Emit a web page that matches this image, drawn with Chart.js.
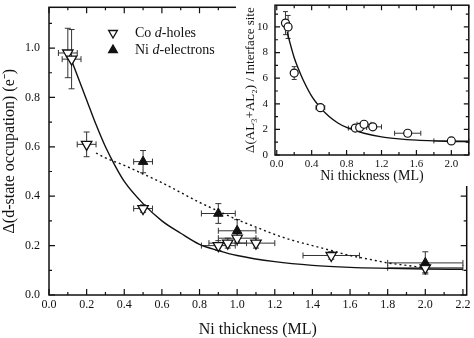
<!DOCTYPE html>
<html>
<head>
<meta charset="utf-8">
<script src="https://cdn.jsdelivr.net/npm/chart.js@4.4.0/dist/chart.umd.min.js"></script>
<style>
  body { margin: 0; background: #fff; }
  #wrap { position: relative; width: 474px; height: 338px; }
  #main { position: absolute; left: 0; top: 0; }
  #inset { position: absolute; left: 236px; top: 0; background: #fff; }
</style>
</head>
<body>
<div id="wrap">
  <canvas id="main" width="474" height="338"></canvas>
  <canvas id="inset" width="238" height="186"></canvas>
</div>
<script>
// --- Données ---

// Co d-holes (triangles vides)
const coX    = [0.10, 0.12, 0.20, 0.50, 0.90, 0.95, 1.00, 1.10, 1.50, 2.00];
const coY    = [0.98, 0.955, 0.61, 0.35, 0.20, 0.21, 0.23, 0.21, 0.16, 0.11];
const coErrX = [0.05, 0.05, 0.05, 0.05, 0.09, 0.10, 0.10, 0.10, 0.15, 0.20];
const coErrY = [0.10, 0.12, 0.05, 0.015, 0.02, 0.02, 0.02, 0.02, 0.015, 0.02];

// Ni d-electrons (triangles pleins)
const niX    = [0.50, 0.90, 1.00, 2.00];
const niY    = [0.54, 0.33, 0.26, 0.13];
const niErrX = [0.05, 0.09, 0.10, 0.20];
const niErrY = [0.045, 0.04, 0.045, 0.045];

// courbe pleine (ajustement Co)
const fitCoX = [0.12, 0.15, 0.20, 0.25, 0.30, 0.35, 0.40, 0.50, 0.60, 0.70, 0.80, 0.90, 1.00, 1.20, 1.40, 1.60, 1.80, 2.00, 2.20];
const fitCoY = [0.95, 0.89, 0.79, 0.69, 0.60, 0.525, 0.46, 0.37, 0.30, 0.25, 0.205, 0.18, 0.16, 0.135, 0.12, 0.112, 0.108, 0.105, 0.104];

// courbe pointillée (Ni)
const fitNiX = [0.25, 0.30, 0.40, 0.50, 0.60, 0.70, 0.80, 0.90, 1.00, 1.10, 1.20, 1.30, 1.40, 1.50, 1.60, 1.70, 1.80, 1.90, 2.00];
const fitNiY = [0.575, 0.555, 0.525, 0.49, 0.455, 0.415, 0.375, 0.34, 0.305, 0.275, 0.245, 0.22, 0.20, 0.18, 0.16, 0.145, 0.13, 0.12, 0.11];

// encart : Δ(AL3+AL2) / site d'interface
const inX    = [0.10, 0.13, 0.20, 0.50, 0.90, 0.95, 1.00, 1.10, 1.50, 2.00];
const inY    = [10.3, 10.0, 6.4, 3.7, 2.1, 2.15, 2.4, 2.2, 1.7, 1.1];
const inErrX = [0.03, 0.03, 0.03, 0.05, 0.08, 0.08, 0.08, 0.10, 0.15, 0.20];
const inErrY = [0.9, 0.9, 0.5, 0.15, 0.2, 0.2, 0.2, 0.2, 0.15, 0.1];
const inFitX = [0.12, 0.15, 0.20, 0.25, 0.30, 0.40, 0.50, 0.60, 0.70, 0.80, 0.90, 1.00, 1.20, 1.40, 1.60, 1.80, 2.00, 2.20];
const inFitY = [9.6, 8.8, 7.6, 6.7, 5.9, 4.6, 3.7, 3.0, 2.5, 2.15, 1.9, 1.7, 1.42, 1.26, 1.16, 1.10, 1.06, 1.04];

// graduations
const mainXTicks = [0.0, 0.2, 0.4, 0.6, 0.8, 1.0, 1.2, 1.4, 1.6, 1.8, 2.0, 2.2];
const mainXMinor = [0.1, 0.3, 0.5, 0.7, 0.9, 1.1, 1.3, 1.5, 1.7, 1.9, 2.1];
const mainYTicks = [0.0, 0.2, 0.4, 0.6, 0.8, 1.0];
const mainYMinor = [0.1, 0.3, 0.5, 0.7, 0.9, 1.1];
const inXTicks = [0.0, 0.4, 0.8, 1.2, 1.6, 2.0];
const inXMinor = [0.2, 0.6, 1.0, 1.4, 1.8, 2.2];
const inYTicks = [0, 2, 4, 6, 8, 10];
const inYMinor = [1, 3, 5, 7, 9, 11];

const INK = '#111';
Chart.defaults.font.family = "'Liberation Serif', 'Times New Roman', serif";
Chart.defaults.color = INK;

const pts = (xs, ys) => xs.map((x, i) => ({ x: x, y: ys[i] }));

// --- Plugins ---

// barres d'erreur en x et y, dessinées sous les symboles
const errorBars = {
    id: 'errorBars',
    beforeDatasetsDraw(chart) {
        const ctx = chart.ctx, xs = chart.scales.x, ys = chart.scales.y;
        chart.data.datasets.forEach(ds => {
            if (!ds.errX) return;
            const c = ds.capSize || 3;
            ctx.save();
            ctx.strokeStyle = '#333';
            ctx.lineWidth = 1;
            ctx.beginPath();
            ds.data.forEach((p, i) => {
                const px = xs.getPixelForValue(p.x), py = ys.getPixelForValue(p.y);
                const x0 = xs.getPixelForValue(p.x - ds.errX[i]), x1 = xs.getPixelForValue(p.x + ds.errX[i]);
                const y0 = ys.getPixelForValue(p.y - ds.errY[i]), y1 = ys.getPixelForValue(p.y + ds.errY[i]);
                ctx.moveTo(x0, py); ctx.lineTo(x1, py);
                ctx.moveTo(x0, py - c); ctx.lineTo(x0, py + c);
                ctx.moveTo(x1, py - c); ctx.lineTo(x1, py + c);
                ctx.moveTo(px, y0); ctx.lineTo(px, y1);
                ctx.moveTo(px - c, y0); ctx.lineTo(px + c, y0);
                ctx.moveTo(px - c, y1); ctx.lineTo(px + c, y1);
            });
            ctx.stroke();
            ctx.restore();
        });
    }
};

// cadre + graduations intérieures sur les 4 côtés
const frame = {
    id: 'frame',
    afterDatasetsDraw(chart, args, opts) {
        const ctx = chart.ctx, a = chart.chartArea, x = chart.scales.x, y = chart.scales.y;
        ctx.save();
        ctx.strokeStyle = INK;
        ctx.lineWidth = 1.5;
        ctx.strokeRect(a.left, a.top, a.right - a.left, a.bottom - a.top);
        ctx.lineWidth = 1.2;
        ctx.beginPath();
        const tickX = (vals, len) => vals.forEach(v => {
            const p = x.getPixelForValue(v);
            ctx.moveTo(p, a.bottom); ctx.lineTo(p, a.bottom - len);
            ctx.moveTo(p, a.top); ctx.lineTo(p, a.top + len);
        });
        const tickY = (vals, len) => vals.forEach(v => {
            const p = y.getPixelForValue(v);
            ctx.moveTo(a.left, p); ctx.lineTo(a.left + len, p);
            ctx.moveTo(a.right, p); ctx.lineTo(a.right - len, p);
        });
        tickX(opts.xMajor, opts.major);
        tickX(opts.xMinor, opts.minor);
        tickY(opts.yMajor, opts.major);
        tickY(opts.yMinor, opts.minor);
        ctx.stroke();
        ctx.restore();
    }
};

// légende dans la zone du graphique (avec le "d" en italique)
const legendBox = {
    id: 'legendBox',
    afterDatasetsDraw(chart, args, opts) {
        if (!opts.items) return;
        const ctx = chart.ctx;
        ctx.save();
        opts.items.forEach((it, i) => {
            const cy = opts.y + i * opts.gap;
            const cx = opts.x;
            const r = 5;
            ctx.beginPath();
            if (it.down) {
                ctx.moveTo(cx - r * 0.87, cy - r * 0.5);
                ctx.lineTo(cx + r * 0.87, cy - r * 0.5);
                ctx.lineTo(cx, cy + r);
            } else {
                ctx.moveTo(cx - r * 0.87, cy + r * 0.5);
                ctx.lineTo(cx + r * 0.87, cy + r * 0.5);
                ctx.lineTo(cx, cy - r);
            }
            ctx.closePath();
            ctx.fillStyle = it.fill;
            ctx.fill();
            ctx.strokeStyle = INK;
            ctx.lineWidth = 1.3;
            ctx.stroke();

            let tx = opts.textX;
            ctx.fillStyle = INK;
            ctx.textBaseline = 'middle';
            it.parts.forEach(part => {
                ctx.font = (part.italic ? 'italic ' : '') + opts.size + "px 'Liberation Serif', serif";
                ctx.fillText(part.t, tx, cy);
                tx += ctx.measureText(part.t).width;
            });
        });
        ctx.restore();
    }
};

// --- Graphique principal ---
new Chart(document.getElementById('main'), {
    type: 'scatter',
    data: {
        datasets: [
            {
                label: 'Ni d-electrons',
                data: pts(niX, niY),
                errX: niErrX, errY: niErrY,
                pointStyle: 'triangle',
                pointRadius: 5.5,
                backgroundColor: INK,
                borderColor: INK,
                borderWidth: 1,
                order: 0
            },
            {
                label: 'Co d-holes',
                data: pts(coX, coY),
                errX: coErrX, errY: coErrY,
                pointStyle: 'triangle',
                rotation: 180,
                pointRadius: 6,
                backgroundColor: '#fff',
                borderColor: INK,
                borderWidth: 1.3,
                order: 1
            },
            {
                label: 'fit Co',
                data: pts(fitCoX, fitCoY),
                showLine: true,
                pointRadius: 0,
                borderColor: INK,
                borderWidth: 1.4,
                cubicInterpolationMode: 'monotone',
                order: 2
            },
            {
                label: 'fit Ni',
                data: pts(fitNiX, fitNiY),
                showLine: true,
                pointRadius: 0,
                borderColor: INK,
                borderWidth: 1.4,
                borderDash: [2, 3],
                cubicInterpolationMode: 'monotone',
                order: 3
            }
        ]
    },
    options: {
        responsive: false,
        animation: false,
        events: [],
        layout: { padding: { top: 1, right: 6, left: 0, bottom: 0 } },
        plugins: {
            legend: { display: false },
            tooltip: { enabled: false },
            frame: { xMajor: mainXTicks, xMinor: mainXMinor, yMajor: mainYTicks, yMinor: mainYMinor, major: 6, minor: 3 },
            legendBox: {
                x: 113, y: 33, gap: 17, textX: 135, size: 14,
                items: [
                    { down: true, fill: '#fff', parts: [{ t: 'Co ' }, { t: 'd', italic: true }, { t: '-holes' }] },
                    { down: false, fill: INK, parts: [{ t: 'Ni ' }, { t: 'd', italic: true }, { t: '-electrons' }] }
                ]
            }
        },
        scales: {
            x: {
                type: 'linear', min: 0, max: 2.22,
                afterBuildTicks: s => { s.ticks = mainXTicks.map(v => ({ value: v })); },
                afterFit: s => { s.height = 43; s.paddingLeft = 0; s.paddingRight = 0; },
                grid: { display: false, drawTicks: false },
                border: { display: false },
                ticks: { padding: 3, autoSkip: false, maxRotation: 0, font: { size: 12 }, callback: v => v.toFixed(1) },
                title: { display: true, text: 'Ni thickness (ML)', font: { size: 16, lineHeight: 1 }, padding: { top: 0, bottom: 0 } }
            },
            y: {
                type: 'linear', min: 0, max: 1.165,
                afterBuildTicks: s => { s.ticks = mainYTicks.map(v => ({ value: v })); },
                afterFit: s => { s.width = 49; s.paddingTop = 0; s.paddingBottom = 0; },
                grid: { display: false, drawTicks: false },
                border: { display: false },
                ticks: { padding: 9, autoSkip: false, font: { size: 12 }, callback: v => v.toFixed(1) },
                title: { display: true, text: 'Δ(d-state occupation) (e⁻)', font: { size: 16, lineHeight: 1 }, padding: { top: 2, bottom: 0 } }
            }
        }
    },
    plugins: [errorBars, frame, legendBox]
});

// --- Encart ---
new Chart(document.getElementById('inset'), {
    type: 'scatter',
    data: {
        datasets: [
            {
                label: 'Δ(AL3+AL2)',
                data: pts(inX, inY),
                errX: inErrX, errY: inErrY,
                capSize: 2.5,
                pointStyle: 'circle',
                pointRadius: 4,
                backgroundColor: '#fff',
                borderColor: INK,
                borderWidth: 1.2,
                order: 0
            },
            {
                label: 'fit',
                data: pts(inFitX, inFitY),
                showLine: true,
                pointRadius: 0,
                borderColor: INK,
                borderWidth: 1.4,
                cubicInterpolationMode: 'monotone',
                order: 1
            }
        ]
    },
    options: {
        responsive: false,
        animation: false,
        events: [],
        layout: { padding: { top: 1, right: 4, left: 0, bottom: 0 } },
        plugins: {
            legend: { display: false },
            tooltip: { enabled: false },
            frame: { xMajor: inXTicks, xMinor: inXMinor, yMajor: inYTicks, yMinor: inYMinor, major: 5, minor: 3 }
        },
        scales: {
            x: {
                type: 'linear', min: -0.02, max: 2.2,
                afterBuildTicks: s => { s.ticks = inXTicks.map(v => ({ value: v })); },
                afterFit: s => { s.height = 31; s.paddingLeft = 0; s.paddingRight = 0; },
                grid: { display: false, drawTicks: false },
                border: { display: false },
                ticks: { padding: 3, autoSkip: false, maxRotation: 0, font: { size: 11 }, callback: v => v.toFixed(1) },
                title: { display: true, text: 'Ni thickness (ML)', font: { size: 14, lineHeight: 1 }, padding: { top: 0, bottom: 3 } }
            },
            y: {
                type: 'linear', min: 0, max: 11.7,
                afterBuildTicks: s => { s.ticks = inYTicks.map(v => ({ value: v })); },
                afterFit: s => { s.width = 39; s.paddingTop = 0; s.paddingBottom = 0; },
                grid: { display: false, drawTicks: false },
                border: { display: false },
                ticks: { padding: 7, autoSkip: false, font: { size: 11 }, callback: v => String(v) },
                title: { display: true, text: 'Δ(AL₃+AL₂) / Interface site', font: { size: 13, lineHeight: 1 }, padding: { top: 8, bottom: 0 } }
            }
        }
    },
    plugins: [errorBars, frame]
});
</script>
</body>
</html>
